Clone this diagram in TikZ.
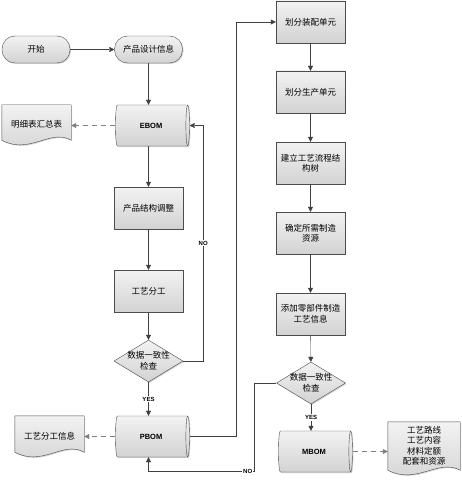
\documentclass[tikz,border=0pt]{standalone}
\usepackage{fontspec}
\setmainfont{Noto Sans CJK SC}
\newfontfamily\latfont{Liberation Sans}
\usetikzlibrary{positioning,shapes,arrows.meta,shadows}

\begin{document}
\begin{tikzpicture}[x=1pt,y=-1pt,font=\fontsize{8.5}{10.5}\selectfont]
\useasboundingbox (0,0) rectangle (461,484);
\tikzstyle{box}=[draw=black!70,top color=gray!10,bottom color=gray!35,drop shadow={shadow xshift=1pt,shadow yshift=-1pt,opacity=.35},align=center]
\tikzstyle{proc}=[box,minimum width=69pt,minimum height=42pt,inner sep=1pt]
\tikzstyle{term}=[box,rounded corners=13pt,minimum width=68pt,minimum height=27pt]
\tikzstyle{check}=[box,diamond,aspect=1.64,minimum width=69pt,minimum height=42pt,inner xsep=-6pt,inner ysep=-4pt]
\tikzstyle{bom}=[box,cylinder,aspect=.3,minimum width=41pt,minimum height=74pt,font=\latfont\bfseries\fontsize{7.5}{8}\selectfont]
\tikzstyle{doc}=[align=center,inner sep=1pt]
\tikzstyle{flow}=[draw=black!75,-{Triangle[length=5pt,width=5pt]}]
\tikzstyle{dflow}=[flow,draw=gray,dash pattern=on 5pt off 4pt]
\tikzstyle{lbl}=[fill=white,inner sep=1pt,font=\latfont\bfseries\fontsize{6}{7}\selectfont]

% left column
\node[term] (start) at (36,49.5) {开始};
\node[term] (info) at (148.5,49.5) {产品设计信息};
\node[bom] (ebom) at (151,125.5) {EBOM};
\node[doc,minimum width=69pt,minimum height=35pt] (sum) at (36.5,122.5) {};
\node[proc] (adjust) at (148.5,208) {产品结构调整};
\node[proc] (split) at (148.5,291) {工艺分工};
\node[check] (chk1) at (148.5,361) {数据一致性\\检查};
\node[bom] (pbom) at (151,436.5) {PBOM};
\node[doc,minimum width=69pt,minimum height=36pt] (tinfo) at (49.5,434) {};

% right column
\node[proc] (u1) at (310.5,22) {划分装配单元};
\node[proc] (u2) at (310.5,92) {划分生产单元};
\node[proc] (u3) at (310.5,163) {建立工艺流程结\\构树};
\node[proc] (u4) at (310.5,233) {确定所需制造\\资源};
\node[proc] (u5) at (310.5,314) {添加零部件制造\\工艺信息};
\node[check] (chk2) at (311,383) {数据一致性\\检查};
\node[bom] (mbom) at (314,451.5) {MBOM};
\node[doc,minimum width=72pt,minimum height=48pt] (route) at (424,446) {};

% document outlines
\draw[box] (sum.north west) -- (sum.north east) -- (sum.south east)
  .. controls +(-21,-12) and +(28,15) .. (sum.south west) -- cycle;
\draw[box] (tinfo.north west) -- (tinfo.north east) -- (tinfo.south east)
  .. controls +(-21,-12) and +(28,15) .. (tinfo.south west) -- cycle;
\draw[box] (route.north west) -- (route.north east) -- (route.south east)
  .. controls +(-22,-12) and +(29,15) .. (route.south west) -- cycle;
\node[doc] (sumtext) at ([yshift=-2pt]sum.center) {明细表汇总表};
\node[doc] (tinfotext) at ([yshift=-2pt]tinfo.center) {工艺分工信息};
\node[doc] (routetext) at (route.center) {工艺路线\\工艺内容\\材料定额\\配套和资源};

% connectors
\draw[flow] (start) -- (info);
\draw[flow] (info) -- (info |- ebom.north);
\draw[dflow] (ebom.west) -- (ebom.west -| sum.east);
\draw[flow] (adjust |- ebom.south) -- (adjust);
\draw[flow] (adjust) -- (split);
\draw[flow] (split) -- (chk1);
\draw[flow] (chk1) -- node[lbl]{YES} (chk1 |- pbom.north);
\draw[flow] (chk1.east) -- ++(20,0) |- node[lbl,pos=.25]{NO} (ebom.east);
\draw[dflow] (pbom.west) -- (pbom.west -| tinfo.east);
\draw[flow] (pbom.east) -- ++(47,0) |- (u1);
\foreach \a/\b in {u1/u2,u2/u3,u3/u4,u4/u5,u5/chk2}
  \draw[flow] (\a) -- (\b);
\draw[flow] (chk2) -- node[lbl]{YES} (chk2 |- mbom.north);
\draw[dflow] (mbom.east) -- (mbom.east -| route.west);
\coordinate (nobend) at (254,471);
\draw[flow] (chk2.west) -| (nobend) -| node[lbl,pos=.03]{NO} (chk1 |- pbom.south);
\end{tikzpicture}
\end{document}
